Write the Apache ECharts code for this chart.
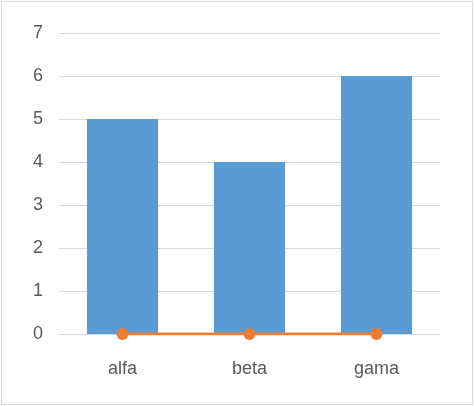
<!DOCTYPE html>
<html>
<head>
<meta charset="utf-8">
<script src="https://cdn.jsdelivr.net/npm/echarts@6/dist/echarts.min.js"></script>
<style>
html, body { margin: 0; padding: 0; background: #fff; }
#chart { position: absolute; left: 1px; top: 1px; width: 470px; height: 402px; border: 1px solid #d9d9d9; }
</style>
</head>
<body>
<div id="chart"></div>
<script>
var categories = ['alfa', 'beta', 'gama'];
var barValues = [5, 4, 6];
var lineValues = [0, 0, 0];

var chart = echarts.init(document.getElementById('chart'));
chart.setOption({
	animation: false,
	grid: { left: 57, right: 32, top: 31, bottom: 70 },
	xAxis: {
		type: 'category',
		data: categories,
		axisLine: { lineStyle: { color: '#d9d9d9' } },
		axisTick: { show: false },
		axisLabel: { color: '#595959', fontSize: 18, fontFamily: 'Liberation Sans', margin: 26 }
	},
	yAxis: {
		type: 'value',
		min: 0,
		max: 7,
		interval: 1,
		axisLine: { show: false },
		axisTick: { show: false },
		axisLabel: { color: '#595959', fontSize: 18, fontFamily: 'Liberation Sans', margin: 16 },
		splitLine: { lineStyle: { color: '#d9d9d9' } }
	},
	series: [
		{
			type: 'bar',
			data: barValues,
			barWidth: '56%',
			itemStyle: { color: '#5b9bd5' }
		},
		{
			type: 'line',
			data: lineValues,
			symbol: 'circle',
			symbolSize: 12,
			lineStyle: { color: '#ed7d31', width: 3 },
			itemStyle: { color: '#ed7d31' }
		}
	]
});
</script>
</body>
</html>
